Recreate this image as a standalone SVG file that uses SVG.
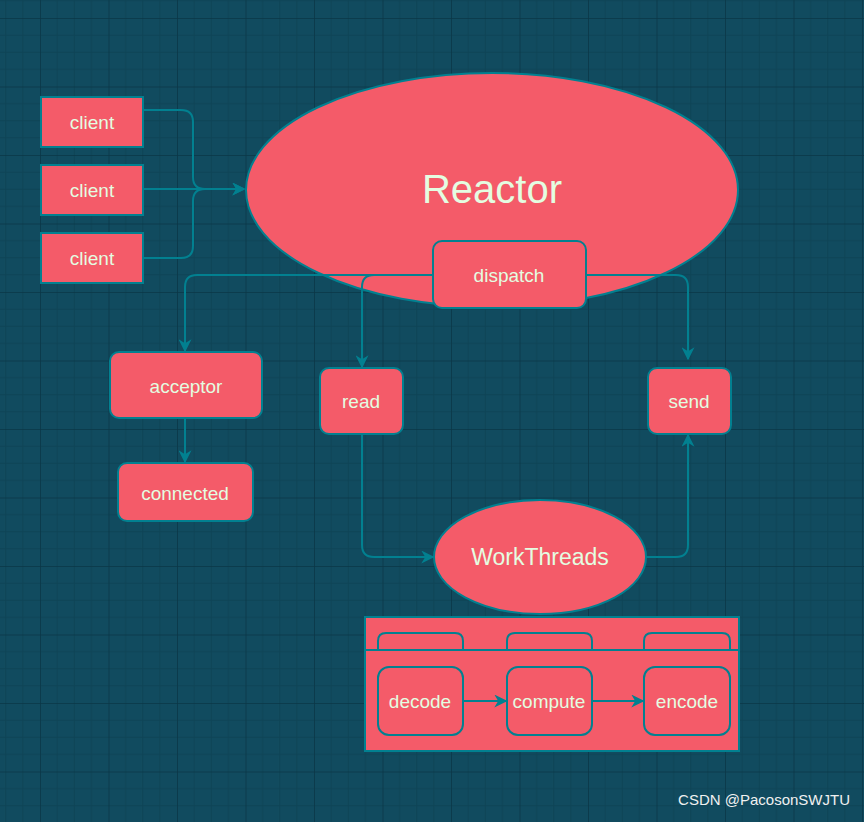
<svg xmlns="http://www.w3.org/2000/svg" width="864" height="822" viewBox="0 0 864 822">
<style>
.n{fill:#f45b69;stroke:#028090;stroke-width:2}
.t{fill:#e4fde1;font-family:"Liberation Sans",Arial,sans-serif;font-size:19px;text-anchor:middle;dominant-baseline:central}
.c{fill:none;stroke:#028090;stroke-width:2}
</style>
<defs>
<pattern id="g" x="40" y="18" width="68.5" height="68.5" patternUnits="userSpaceOnUse">
<path d="M17.1 0V68.5M34.25 0V68.5M51.4 0V68.5M0 17.1H68.5M0 34.25H68.5M0 51.4H68.5" stroke="#0e4456" stroke-width="1" fill="none"/>
<path d="M0 0V68.5M0 0H68.5" stroke="#0a3646" stroke-width="1.5" fill="none"/>
</pattern>
<marker id="a" viewBox="0 0 10 10" refX="9" refY="5" markerWidth="13" markerHeight="13" orient="auto" markerUnits="userSpaceOnUse"><path d="M0 0L10 5L0 10L3 5Z" fill="#028090"/></marker>
</defs>
<rect width="864" height="822" fill="#114b5f"/>
<rect width="864" height="822" fill="url(#g)"/>
<g id="client1"><rect class="n" x="41" y="97" width="102" height="50"/><text class="t" x="92" y="122">client</text></g>
<g id="client2"><rect class="n" x="41" y="165" width="102" height="50"/><text class="t" x="92" y="190">client</text></g>
<g id="client3"><rect class="n" x="41" y="233" width="102" height="50"/><text class="t" x="92" y="258">client</text></g>
<g id="reactor"><ellipse class="n" cx="492" cy="190" rx="246" ry="117"/><text class="t" x="492" y="189" style="font-size:40px">Reactor</text></g>
<g id="connectors">
<path class="c" d="M143 110H181Q193 110 193 122V177Q193 189 205 189H244" marker-end="url(#a)"/>
<path class="c" d="M143 189H244" marker-end="url(#a)"/>
<path class="c" d="M143 258H181Q193 258 193 246V201Q193 189 205 189"/>
<path class="c" d="M433 275H197Q185 275 185 287V351" marker-end="url(#a)"/>
<path class="c" d="M433 275H374Q362 275 362 287V367" marker-end="url(#a)"/>
<path class="c" d="M586 275H676Q688 275 688 287V359" marker-end="url(#a)"/>
<path class="c" d="M185 418V462" marker-end="url(#a)"/>
<path class="c" d="M362 434V545Q362 557 374 557H433" marker-end="url(#a)"/>
<path class="c" d="M646 557H676Q688 557 688 545V435" marker-end="url(#a)"/>
</g>
<g id="dispatch"><rect class="n" x="433" y="241" width="153" height="67" rx="9"/><text class="t" x="509" y="275">dispatch</text></g>
<g id="acceptor"><rect class="n" x="110" y="352" width="152" height="66" rx="9"/><text class="t" x="186" y="386">acceptor</text></g>
<g id="connected"><rect class="n" x="118" y="463" width="135" height="58" rx="9"/><text class="t" x="185" y="493">connected</text></g>
<g id="read"><rect class="n" x="320" y="368" width="83" height="66" rx="9"/><text class="t" x="361" y="401">read</text></g>
<g id="send"><rect class="n" x="648" y="368" width="83" height="66" rx="9"/><text class="t" x="689" y="401">send</text></g>
<g id="workthreads"><ellipse class="n" cx="540" cy="557" rx="106" ry="57"/><text class="t" x="540" y="557" style="font-size:23px">WorkThreads</text></g>
<g id="pipeline">
<rect class="n" x="365" y="617" width="374" height="134"/>
<path class="c" d="M378 650V641Q378 633 386 633H455Q463 633 463 641V650M507 650V641Q507 633 515 633H584Q592 633 592 641V650M644 650V641Q644 633 652 633H722Q730 633 730 641V650"/>
<path class="c" d="M365 650H739"/>
</g>
<g id="decode"><rect class="n" x="378" y="667" width="85" height="68" rx="11"/><text class="t" x="420" y="701">decode</text></g>
<g id="compute"><rect class="n" x="507" y="667" width="85" height="68" rx="11"/><text class="t" x="549" y="701">compute</text></g>
<g id="encode"><rect class="n" x="644" y="667" width="86" height="68" rx="11"/><text class="t" x="687" y="701">encode</text></g>
<g id="pipe-connectors">
<path class="c" d="M463 701H506" marker-end="url(#a)"/>
<path class="c" d="M592 701H643" marker-end="url(#a)"/>
</g>
<text x="850" y="805" style="fill:#f0f0f0;font-family:'Liberation Sans',Arial,sans-serif;font-size:15px;text-anchor:end">CSDN @PacosonSWJTU</text>
</svg>
